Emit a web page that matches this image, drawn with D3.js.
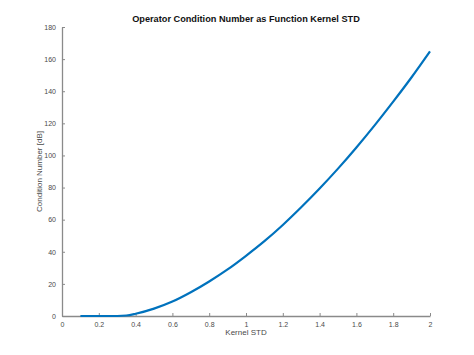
<!DOCTYPE html>
<html><head><meta charset="utf-8">
<script src="https://cdn.jsdelivr.net/npm/d3@7"></script>
<style>body{margin:0;background:#fff}svg{display:block}</style>
</head><body><svg id="c" width="474" height="355"></svg>
<script>
const stdValues = [0.1,0.2,0.3,0.35,0.4,0.5,0.6,0.7,0.8,0.9,1.0,1.1,1.2,1.3,1.4,1.5,1.6,1.7,1.8,1.9,2.0];
const condValues = [0,0,0,0.3,1.4,4.6,9.0,14.8,21.5,29,37.5,46.6,56.7,67.7,79.4,91.8,105,118.9,133.5,148.7,164.8];
const xTicks = [0,0.2,0.4,0.6,0.8,1,1.2,1.4,1.6,1.8,2];
const yTicks = [0,20,40,60,80,100,120,140,160,180];
const titleText = "Operator Condition Number as Function Kernel STD";
const xLabel = "Kernel STD";
const yLabel = "Condition Number [dB]";

const svg = d3.select("#c");
const L = 62, R = 430, T = 27, B = 316;
const x = d3.scaleLinear().domain([0,2]).range([L,R]);
const y = d3.scaleLinear().domain([0,180]).range([B,T]);
const font = "Arial, 'Liberation Sans', Helvetica, sans-serif";
const axCol = "#8a8a8a", txtCol = "#4a4a4a";

const xa = svg.append("g").attr("transform",`translate(0,${B})`)
  .call(d3.axisBottom(x).tickValues(xTicks).tickSizeInner(-3).tickSizeOuter(0).tickPadding(6)
    .tickFormat(d=>d3.format("")(d)));
const ya = svg.append("g").attr("transform",`translate(${L},0)`)
  .call(d3.axisLeft(y).tickValues(yTicks).tickSizeInner(-3).tickSizeOuter(0).tickPadding(6));
[xa,ya].forEach(g=>{
  g.select(".domain").attr("stroke",axCol).attr("stroke-width",1.3);
  g.selectAll(".tick line").attr("stroke",axCol);
  g.selectAll(".tick text").attr("fill",txtCol).attr("font-size",7).attr("font-family",font);
});

svg.append("path").datum(stdValues.map((s,i)=>[s,condValues[i]]))
  .attr("fill","none").attr("stroke","#0072BD").attr("stroke-width",2.2)
  .attr("stroke-linejoin","round")
  .attr("d",d3.line().x(d=>x(d[0])).y(d=>y(d[1])).curve(d3.curveMonotoneX));

svg.append("text").attr("x",(L+R)/2).attr("y",22).attr("text-anchor","middle")
  .attr("font-family",font).attr("font-weight","bold").attr("font-size",9.2).attr("fill","#111")
  .text(titleText);
svg.append("text").attr("x",(L+R)/2).attr("y",335).attr("text-anchor","middle")
  .attr("font-family",font).attr("font-size",8).attr("fill",txtCol).text(xLabel);
svg.append("text").attr("transform",`translate(42,${(T+B)/2}) rotate(-90)`).attr("text-anchor","middle")
  .attr("font-family",font).attr("font-size",8).attr("fill",txtCol).text(yLabel);
</script></body></html>
